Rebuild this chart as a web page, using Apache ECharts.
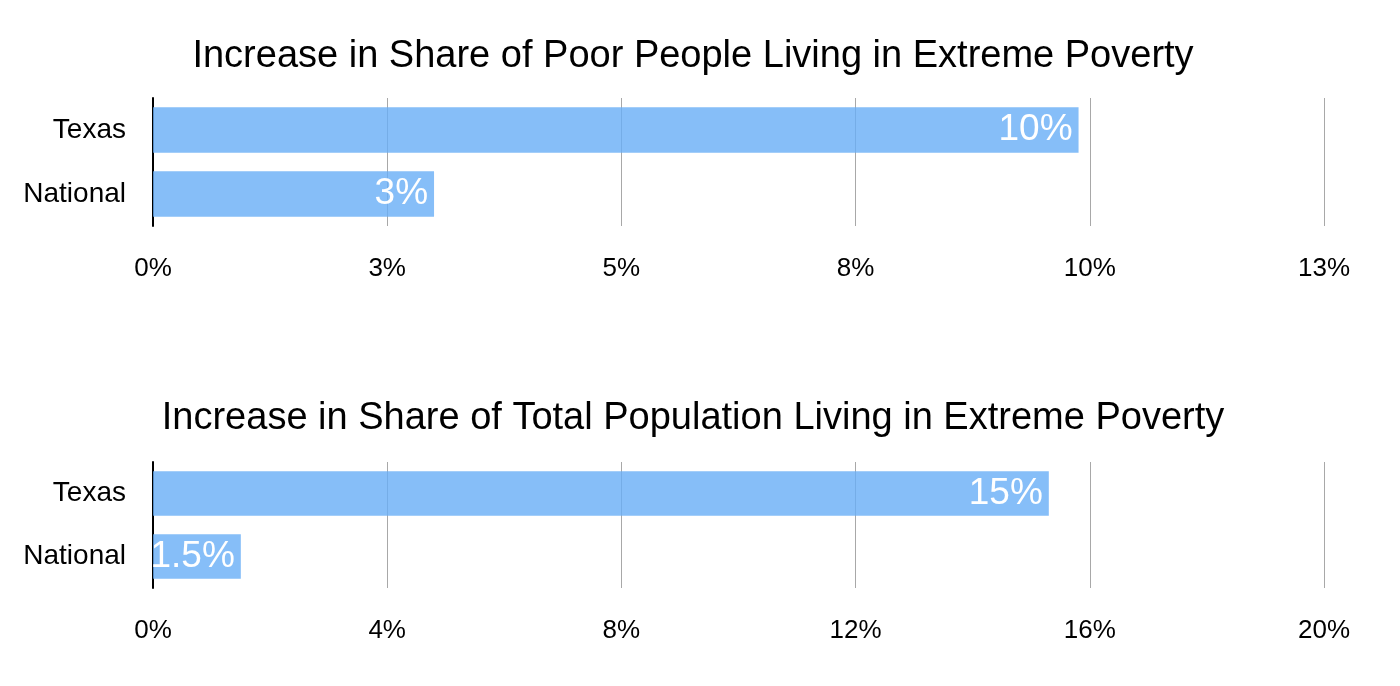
<!DOCTYPE html>
<html>
<head>
	<meta charset="utf-8" />
	<title>Extreme Poverty</title>
	<script src="https://cdn.jsdelivr.net/npm/echarts@6/dist/echarts.min.js"></script>
	<style>
		html, body { margin: 0; padding: 0; background: #fff; }
	</style>
</head>
<body>
	<div id="main" style="width: 1400px;height: 686px;"></div>

	<script type="text/javascript">
		// categories and values (percent)
		var regions = ['Texas', 'National'];
		var poorPeopleShare = [9.88, 3.0];
		var totalPopShare = [15.3, 1.5];
		var poorLabels = ['10%', '3%'];
		var totalLabels = ['15%', '1.5%'];

		var FONT = 'Liberation Sans, Helvetica, Arial, sans-serif';

		var myChart = echarts.init(document.getElementById("main"));

		function xAxisOf(idx, max, interval) {
			return {
				type: 'value',
				gridIndex: idx,
				min: 0,
				max: max,
				interval: interval,
				axisLine: {show: false},
				axisTick: {show: false},
				axisLabel: {
					color: '#000',
					fontSize: 26,
					fontFamily: FONT,
					margin: 30,
					formatter: function (v) { return Math.round(v) + '%'; }
				},
				splitLine: {show: true, lineStyle: {color: '#a8a8a8', width: 1}}
			};
		}

		function yAxisOf(idx) {
			return {
				type: 'category',
				gridIndex: idx,
				data: regions,
				inverse: true,
				axisLine: {show: true, lineStyle: {color: '#000', width: 2}},
				axisTick: {show: false},
				axisLabel: {color: '#000', fontSize: 28, fontFamily: FONT, margin: 27, padding: [6, 0, 0, 0]}
			};
		}

		function barSeries(idx, values, labels) {
			return {
				type: 'bar',
				xAxisIndex: idx,
				yAxisIndex: idx,
				data: values,
				barWidth: '71%',
				itemStyle: {color: 'rgba(104,174,246,0.8)'},
				label: {
					show: true,
					position: 'insideRight',
					distance: 6,
					color: '#fff',
					fontSize: 37,
					fontFamily: FONT,
					padding: [5, 0, 0, 0],
					textShadowColor: 'rgba(0,0,0,0.9)',
					textShadowBlur: 0,
					textShadowOffsetX: 1,
					textShadowOffsetY: 1,
					formatter: function (p) { return labels[p.dataIndex]; }
				}
			};
		}

		var option = {
			animation: false,
			title: [{
				text: 'Increase in Share of Poor People Living in Extreme Poverty',
				left: 688,
				textAlign: 'center',
				top: 33,
				textStyle: {color: '#000', fontSize: 38, fontWeight: 'normal', fontFamily: FONT}
			}, {
				text: 'Increase in Share of Total Population Living in Extreme Poverty',
				left: 688,
				textAlign: 'center',
				top: 395,
				textStyle: {color: '#000', fontSize: 38, fontWeight: 'normal', fontFamily: FONT}
			}],
			grid: [
				{left: 153, right: 76, top: 98, height: 128},
				{left: 153, right: 76, top: 462, height: 126}
			],
			xAxis: [xAxisOf(0, 12.5, 2.5), xAxisOf(1, 20, 4)],
			yAxis: [yAxisOf(0), yAxisOf(1)],
			series: [
				barSeries(0, poorPeopleShare, poorLabels),
				barSeries(1, totalPopShare, totalLabels)
			]
		};

		myChart.setOption(option);
	</script>
</body>
</html>
